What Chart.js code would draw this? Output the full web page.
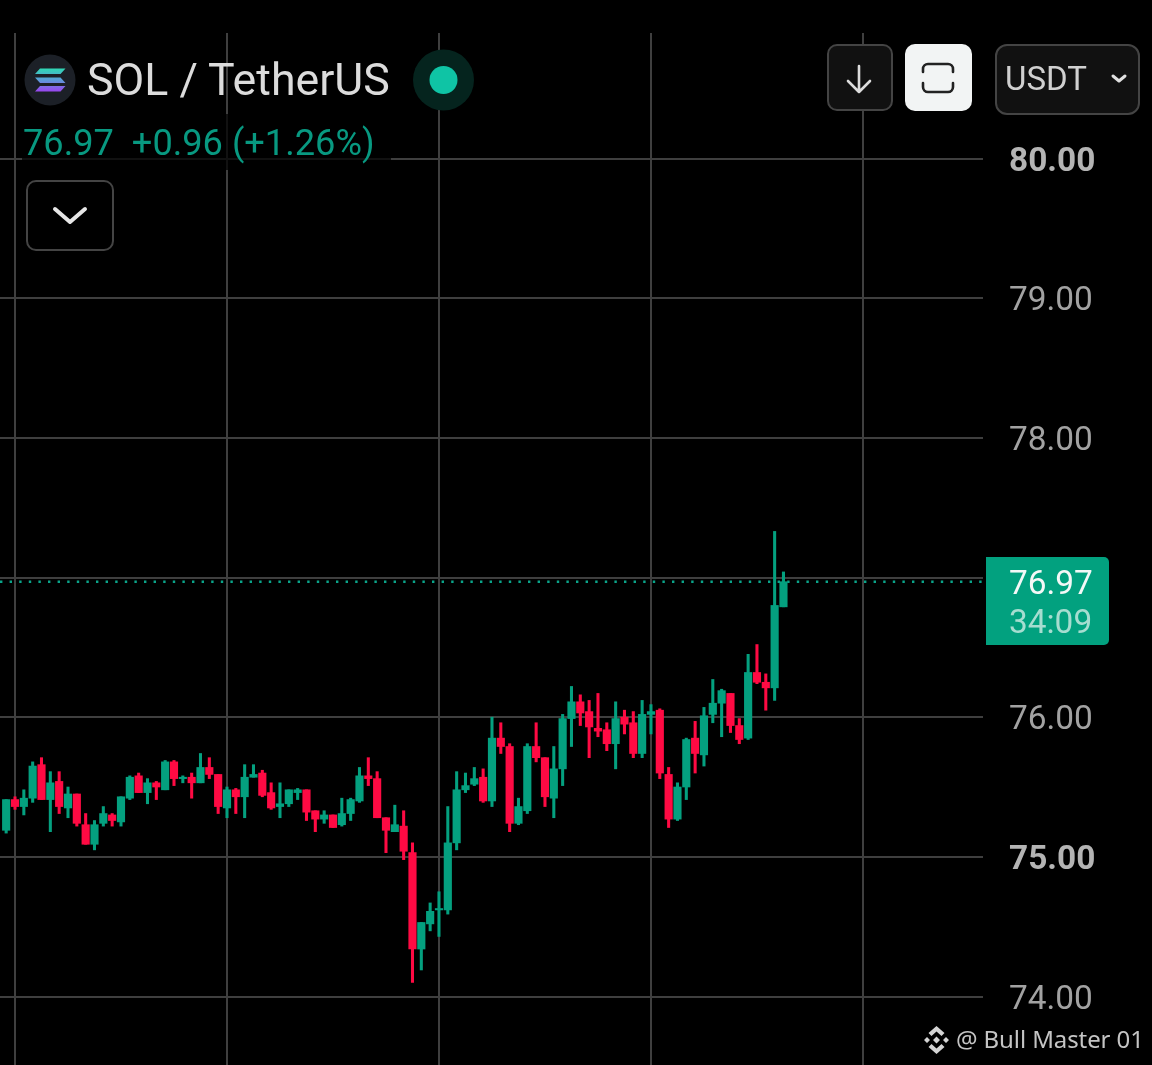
<!DOCTYPE html>
<html>
<head>
<meta charset="utf-8">
<script src="https://cdn.jsdelivr.net/npm/chart.js@4"></script>
<style>
html,body{margin:0;padding:0;background:#000;width:1152px;height:1065px;overflow:hidden}
#wrap{position:relative;width:1152px;height:1065px;font-family:Roboto,sans-serif}
canvas{position:absolute;left:0;top:0}
.abs{position:absolute;white-space:pre;line-height:1}
.btn{position:absolute;box-sizing:border-box;border-radius:10px;background:#111;border:2px solid #444}
svg{position:absolute;overflow:visible}
</style>
</head>
<body>
<div id="wrap">
<canvas id="c" width="1152" height="1065"></canvas>

<div class="abs" style="left:22px;top:114px;width:369px;height:56px;background:rgba(0,0,0,.72)"></div>
<svg style="left:0;top:0" width="1152" height="1065">
  <defs><linearGradient id="sg" x1="0" x2="0" y1="0" y2="1"><stop offset="0" stop-color="#2fd8b4"/><stop offset=".5" stop-color="#5c9bd8"/><stop offset="1" stop-color="#9a45f0"/></linearGradient></defs>
  <circle cx="50" cy="80" r="25.5" fill="#1c2027"/>
  <path fill="url(#sg)" d="M40 68.5h25.5l-5 5.5H35zM35 77.5h25.5l5 5.5H40zM40 86h25.5l-5 5.5H35z"/>
  <circle cx="443.500" cy="80" r="30.500" fill="#05241e"/>
  <circle cx="443.500" cy="80" r="14" fill="#0fc4a5"/>
</svg>
<div class="abs" id="title" style="left:87px;top:58px;font-size:44.7px;color:#dcdcdc">SOL / TetherUS</div>
<div class="abs" id="legend" style="left:23px;top:125px;font-size:36.2px;color:#089981">76.97  +0.96 (+1.26%)</div>

<div class="btn" style="left:26px;top:180px;width:88px;height:71px;background:#000"></div>
<svg style="left:0;top:0" width="1152" height="1065"><path d="M55 209l15 13 15-13" fill="none" stroke="#e6e6e6" stroke-width="4" stroke-linecap="round" stroke-linejoin="round"/></svg>

<div class="btn" style="left:827px;top:44px;width:66px;height:67px"></div>
<svg style="left:0;top:0" width="1152" height="1065"><path d="M859 66v26M848 81l11 11 11-11" fill="none" stroke="#dcdcdc" stroke-width="2.600" stroke-linecap="round" stroke-linejoin="round"/></svg>
<div class="btn" style="left:905px;top:44px;width:67px;height:67px;background:#f2f4f4;border:none"></div>
<svg style="left:0;top:0" width="1152" height="1065"><path d="M923 72v-3a5 5 0 0 1 5-5h20a5 5 0 0 1 5 5v3M923 83v4a5 5 0 0 0 5 5h20a5 5 0 0 0 5-5v-4" fill="none" stroke="#222" stroke-width="2.600" stroke-linecap="round"/></svg>
<div class="btn" style="left:995px;top:44px;width:145px;height:71px;border-radius:12px"></div>
<div class="abs" style="left:1005px;top:62px;font-size:33px;color:#d0d0d0">USDT</div>
<svg style="left:0;top:0" width="1152" height="1065"><path d="M1113 76l6 5 6-5" fill="none" stroke="#e0e0e0" stroke-width="3" stroke-linecap="round" stroke-linejoin="round"/></svg>

<div class="abs" style="left:985.500px;top:557px;width:123px;height:88px;background:#02a17f;border-radius:0 5px 5px 0"></div>
<div class="abs" style="left:1009px;top:566px;font-size:33.4px;color:#f4f8f7">76.97</div>
<div class="abs" style="left:1009px;top:605px;font-size:33.4px;color:#a6ddd0">34:09</div>

<svg style="left:0;top:0" width="1152" height="1065"><g fill="#d4d4d4">
  <path d="M936.500 1026l8 7-3 3-5-4.500-5 4.500-3-3zM936.500 1054l8-7-3-3-5 4.500-5-4.500-3 3zM924 1040l3-3 3 3-3 3zM943 1040l3-3 3 3-3 3zM933 1040l3.500-3.500 3.500 3.500-3.500 3.500z"/>
</g></svg>
<div class="abs" style="left:956px;top:1027px;font-size:24px;letter-spacing:-.1px;color:#c4c4c4;font-family:'Noto Sans',sans-serif">@ Bull Master 01</div>
</div>

<script>
const opens = [75.19,75.41,75.36,75.42,75.66,75.41,75.54,75.35,75.45,75.23,75.09,75.24,75.30,75.25,75.42,75.58,75.46,75.53,75.48,75.68,75.56,75.57,75.53,75.64,75.59,75.35,75.48,75.43,75.57,75.60,75.46,75.36,75.38,75.46,75.48,75.33,75.27,75.30,75.23,75.31,75.40,75.58,75.56,75.28,75.18,75.22,75.03,74.34,74.52,74.62,74.62,75.10,75.48,75.52,75.57,75.40,75.85,75.79,75.24,75.33,75.79,75.71,75.42,75.63,75.99,76.11,76.04,75.92,75.91,75.81,76.00,75.96,75.74,76.02,76.05,75.59,75.27,75.50,75.85,75.73,76.02,76.10,76.17,75.94,75.85,76.32,76.25,76.21,76.79];
const highs = [75.41,75.43,75.48,75.68,75.71,75.61,75.61,75.50,75.45,75.31,75.26,75.36,75.31,75.43,75.58,75.60,75.56,75.54,75.69,75.69,75.58,75.60,75.74,75.71,75.59,75.50,75.49,75.66,75.66,75.62,75.53,75.53,75.48,75.49,75.48,75.33,75.33,75.30,75.42,75.42,75.64,75.71,75.61,75.28,75.37,75.33,75.10,74.53,74.67,74.75,75.36,75.61,75.60,75.64,75.63,76.00,75.96,75.81,75.42,75.81,75.96,75.71,75.79,76.02,76.22,76.16,76.12,76.17,75.96,76.11,76.05,76.04,76.12,76.09,76.06,75.64,75.53,75.85,75.97,76.07,76.27,76.20,76.17,75.99,76.45,76.52,76.31,77.33,77.04];
const lows = [75.17,75.34,75.30,75.39,75.41,75.18,75.31,75.28,75.22,75.09,75.05,75.22,75.22,75.22,75.41,75.46,75.38,75.41,75.48,75.51,75.53,75.42,75.53,75.56,75.31,75.28,75.31,75.28,75.57,75.43,75.34,75.28,75.36,75.41,75.26,75.18,75.24,75.21,75.22,75.26,75.39,75.51,75.28,75.03,75.18,74.98,74.10,74.19,74.47,74.43,74.59,75.05,75.46,75.51,75.39,75.36,75.74,75.18,75.23,75.31,75.68,75.36,75.28,75.51,75.79,75.94,75.71,75.86,75.76,75.63,75.88,75.71,75.71,75.88,75.56,75.21,75.26,75.41,75.60,75.65,75.96,75.86,75.89,75.81,75.84,76.24,76.05,76.12,76.79];
const closes = [75.41,75.36,75.42,75.65,75.41,75.53,75.36,75.45,75.24,75.09,75.23,75.31,75.26,75.43,75.57,75.46,75.53,75.50,75.68,75.56,75.57,75.53,75.64,75.59,75.36,75.48,75.43,75.57,75.59,75.44,75.35,75.38,75.48,75.48,75.32,75.27,75.30,75.21,75.31,75.41,75.58,75.56,75.28,75.19,75.23,75.04,74.34,74.53,74.61,74.63,75.10,75.48,75.51,75.56,75.40,75.85,75.79,75.24,75.36,75.79,75.71,75.43,75.63,75.99,76.11,76.03,75.93,75.90,75.81,75.99,75.95,75.74,76.02,76.04,75.60,75.27,75.50,75.84,75.74,76.01,76.10,76.19,75.94,75.84,76.32,76.25,76.21,76.80,76.97];
const priceTicks = [74,75,76,77,78,79,80];
const boldTicks = [75,80];
const hiddenTickLabels = [77];
const timeGrid = [1,25,49,73,97];
const lastPrice = 76.97;

const GREEN = '#04a07f', RED = '#ff0a43', GRID = '#3f3f3f';
const xMin = -0.698, xMax = 110.59;
const yMin = 73.5096, yMax = 80.8986;
const idx = opens.map((_, i) => i);
const colors = idx.map(i => closes[i] >= opens[i] ? GREEN : RED);
const isBold = c => !!c.tick && boldTicks.includes(c.tick.value);

new Chart(document.getElementById('c'), {
  type: 'bar',
  data: { datasets: [
    { type:'bar', order:1, data: idx.map(i => ({x:i, y:[opens[i], closes[i]]})), backgroundColor: colors, borderWidth:0, barThickness:7.5, grouped:false },
    { type:'bar', order:2, data: idx.map(i => ({x:i, y:[lows[i], highs[i]]})), backgroundColor: colors, borderWidth:0, barThickness:2.4, grouped:false },
    { type:'line', order:0, data: [{x:xMin,y:lastPrice},{x:xMax,y:lastPrice}], borderColor:'#0aa58a', borderWidth:2.6, borderDash:[2.4,7.2], pointRadius:0, fill:false }
  ]},
  options: {
    responsive:false, animation:false, devicePixelRatio:1,
    layout:{ padding:{ top:33, left:0, right:0, bottom:0 } },
    plugins:{ legend:{display:false}, tooltip:{enabled:false} },
    scales:{
      x:{ type:'linear', min:xMin, max:xMax, offset:false,
          afterBuildTicks:s => { s.ticks = timeGrid.map(v => ({value:v})); },
          afterFit:s => { s.height = 0; s.paddingLeft = 0; s.paddingRight = 0; },
          grid:{ color:GRID, lineWidth:2, drawTicks:false, offset:false }, border:{display:false},
          ticks:{ display:false } },
      y:{ type:'linear', position:'right', min:yMin, max:yMax,
          afterBuildTicks:s => { s.ticks = priceTicks.map(v => ({value:v})); },
          afterFit:s => { s.width = 169; s.paddingTop = 0; s.paddingBottom = 0; },
          grid:{ color:GRID, lineWidth:2, drawTicks:false }, border:{display:false},
          ticks:{ padding:26, color:c => isBold(c) ? '#b4b4b4' : '#a2a2a2',
            font:c => ({ family:'Roboto', size:33.4, lineHeight:'7.5px', weight: isBold(c) ? '700' : '400' }),
            callback:v => hiddenTickLabels.includes(v) ? '' : ['', v.toFixed(2)] } }
    }
  }
});
</script>
</body>
</html>
